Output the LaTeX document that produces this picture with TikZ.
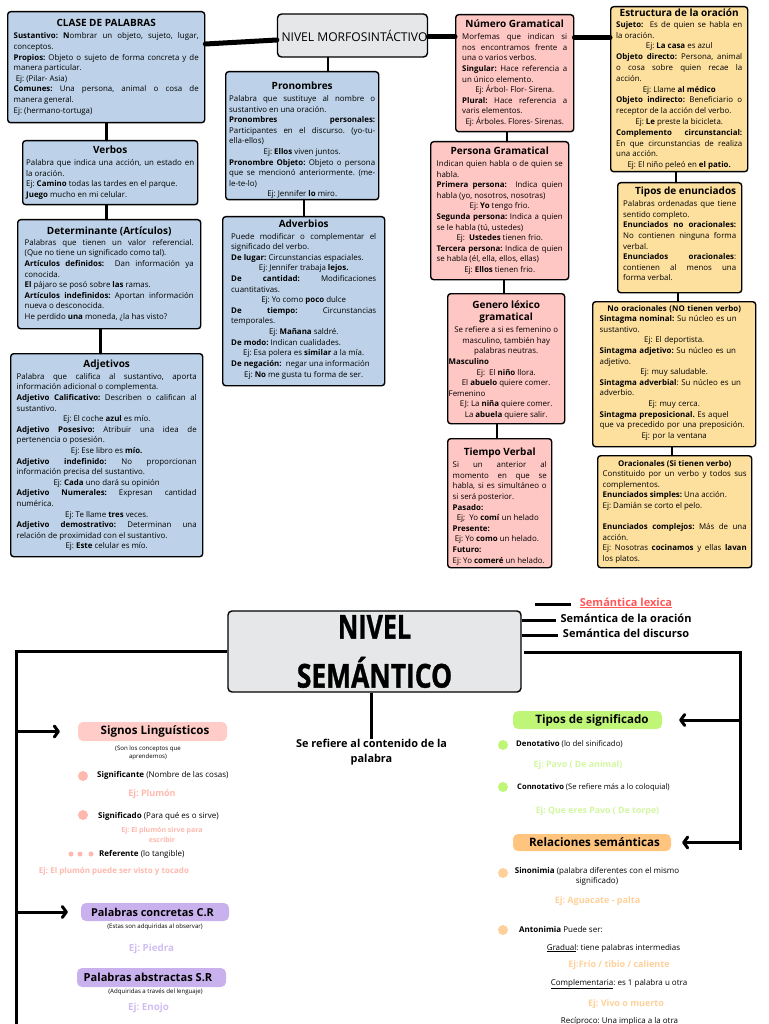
\documentclass[tikz,border=0pt]{standalone}
\usepackage[x11names,svgnames,dvipsnames]{xcolor}
\usepackage{fontspec}
\setmainfont{Open Sans}
\newfontfamily\titlefont[FakeBold=1.2]{Open Sans Bold}
\usepackage{tikz}
\usetikzlibrary{arrows.meta}
\hyphenpenalty=10000
\tolerance=9999
\emergencystretch=6pt
\frenchspacing
\definecolor{boxblue}{HTML}{BDD2E8}
\definecolor{boxpink}{HTML}{FFC7C3}
\definecolor{boxyellow}{HTML}{FDE09E}
\definecolor{boxgrey}{HTML}{E6E7E9}
\definecolor{pillpink}{HTML}{FFCCC8}
\definecolor{pillgreen}{HTML}{BFF678}
\definecolor{pillorange}{HTML}{FFC57F}
\definecolor{pillviolet}{HTML}{C9B1EE}
\definecolor{ejpink}{HTML}{FFB8AD}
\definecolor{ejgreen}{HTML}{D2F7A0}
\definecolor{ejorange}{HTML}{FFD09A}
\definecolor{ejviolet}{HTML}{D0BEF2}
\definecolor{lexred}{HTML}{FF5757}
\newcommand{\boxhead}[1]{\centerline{\fontsize{10}{10}\selectfont\bfseries #1}\vskip1.5pt}
\newcommand{\ejline}[1]{\centerline{#1}}

\begin{document}
\begin{tikzpicture}
	[x=1pt,y=-1pt,
	panel/.style={draw=black,line width=1.4pt,rounded corners=3pt,anchor=north west,align=justify,inner xsep=6pt,inner ysep=0pt,font=\fontsize{7.9}{10.6}\selectfont},
	bluebox/.style={panel,fill=boxblue},
	pinkbox/.style={panel,fill=boxpink},
	yellowbox/.style={panel,fill=boxyellow},
	greybox/.style={draw=black,line width=1.4pt,rounded corners=4pt,fill=boxgrey},
	link/.style={line width=#1,line cap=round},
	link/.default=2.6pt,
	hook/.style={line width=3pt},
	hookarrow/.style={line width=3pt,-{Straight Barb[round,length=4pt,width=11pt]}},
	pill/.style={rounded corners=5pt,inner sep=0pt,font=\fontsize{11.6}{13}\selectfont\bfseries},
	blob/.style={circle,fill=#1,inner sep=0pt,minimum size=10pt},
	smallblob/.style={circle,fill=#1,inner sep=0pt,minimum size=5pt},
	plain/.style={inner sep=0pt,align=center,font=\fontsize{8}{10}\selectfont},
	tiny/.style={inner sep=0pt,align=center,font=\fontsize{6.1}{8}\selectfont},
	ej/.style={inner sep=0pt,align=center,text=#1,font=\fontsize{9}{10}\selectfont\bfseries},
	lead/.style={inner sep=0pt,align=center,font=\fontsize{10.9}{15}\selectfont\bfseries},
	semline/.style={inner sep=0pt,font=\fontsize{11}{13}\selectfont\bfseries}]
	\useasboundingbox (0,0) rectangle (768,1024);

	\node[greybox,minimum width=149pt,minimum height=43pt,inner sep=0pt,font=\fontsize{12.1}{14}\selectfont] (morfo) at (352.5,35.5) {\hspace*{4pt}NIVEL MORFOSINTÁCTIVO};

	\node[bluebox,text width=185pt,minimum height=111pt] (clase) at (7,11) {%
		\boxhead{CLASE DE PALABRAS}
		\textbf{Sustantivo: N}ombrar un objeto, sujeto, lugar,\linebreak conceptos.\par
		\textbf{Propios:} Objeto o sujeto de forma concreta y de\linebreak manera particular.\par
		\ Ej: (Pilar- Asia)\par
		\textbf{Comunes:} Una persona, animal o cosa de\linebreak manera general.\par
		Ej: (hermano-tortuga)};
	\node[bluebox,text width=168pt,inner xsep=3.5pt,minimum height=64pt] (verbos) at (22,140) {%
		\boxhead{Verbos}
		Palabra que indica una acción, un estado en\linebreak la oración.\par
		Ej: \textbf{Camino} todas las tardes en el parque.\par
		\textbf{Juego} mucho en mi celular.};
	\node[bluebox,text width=169pt,inner xsep=7pt,minimum height=109pt] (determinante) at (17,219) {%
		\centerline{\fontsize{10}{10}\selectfont\bfseries Determinante (Artículos)}
		Palabras que tienen un valor referencial.\linebreak (Que no tiene un significado como tal).\par
		\textbf{Artículos definidos:} \ Dan información ya\linebreak conocida.\par
		\textbf{El} pájaro se posó sobre \textbf{las} ramas.\par
		\textbf{Artículos indefinidos:} Aportan información\linebreak nueva o desconocida.\par
		He perdido \textbf{una} moneda, ¿la has visto?};
	\node[bluebox,text width=180pt,minimum height=203pt] (adjetivos) at (10,353) {%
		\boxhead{Adjetivos}
		Palabra que califica al sustantivo, aporta\linebreak información adicional o complementa.\par
		\textbf{Adjetivo Calificativo:} Describen o califican al\linebreak sustantivo.\par
		\ejline{Ej: El coche \textbf{azul} es mío.}
		\textbf{Adjetivo Posesivo:} Atribuir una idea de\linebreak pertenencia o posesión.\par
		\ejline{Ej: Ese libro es \textbf{mío.}}
		\textbf{Adjetivo indefinido:} No proporcionan\linebreak información precisa del sustantivo.\par
		\ejline{Ej: \textbf{Cada} uno dará su opinión}
		\textbf{Adjetivo Numerales:} Expresan cantidad\linebreak numérica.\par
		\ejline{Ej: Te llame \textbf{tres} veces.}
		\textbf{Adjetivo demostrativo:} Determinan una\linebreak relación de proximidad con el sustantivo.\par
		\ejline{Ej: \textbf{Este} celular es mío.}};

	\node[bluebox,text width=146pt,inner xsep=3.5pt,minimum height=128pt] (pronombres) at (225,71) {%
		\rule{0pt}{17pt}\boxhead{Pronombres}
		Palabra que sustituye al nombre o\linebreak sustantivo en una oración.\par
		\textbf{Pronombres personales:}\linebreak
		Participantes en el discurso. (yo-tu-\linebreak ella-ellos)\par
		\ejline{Ej: \textbf{Ellos} viven juntos.}
		\textbf{Pronombre Objeto:} Objeto o persona\linebreak que se mencionó anteriormente. (me-\linebreak le-te-lo)\par
		\ejline{Ej: Jennifer \textbf{lo} miro.}};
	\node[bluebox,text width=145pt,inner xsep=8.5pt,minimum height=169pt] (adverbios) at (222,216) {%
		\boxhead{Adverbios}
		Puede modificar o complementar el\linebreak significado del verbo.\par
		\textbf{De lugar:} Circunstancias espaciales.\par
		\ejline{Ej: Jennifer trabaja \textbf{lejos.}}
		\textbf{De cantidad:} Modificaciones\linebreak cuantitativas.\par
		\ejline{Ej: Yo como \textbf{poco} dulce}
		\textbf{De tiempo:} Circunstancias\linebreak temporales.\par
		\ejline{Ej: \textbf{Mañana} saldré.}
		\textbf{De modo:} Indican cualidades.\par
		\ejline{Ej: Esa polera es \textbf{similar} a la mía.}
		\textbf{De negación:} \ negar una información\par
		\ejline{Ej: \textbf{No} me gusta tu forma de ser.}
		\vskip4pt\kern0pt};

	\node[pinkbox,text width=105pt,inner xsep=6.5pt,minimum height=117pt] (numero) at (455,14) {%
		\boxhead{Número Gramatical}
		Morfemas que indican si\linebreak nos encontramos frente a\linebreak una o varios verbos.\par
		\textbf{Singular:} Hace referencia a\linebreak un único elemento.\par
		\ejline{Ej: Árbol- Flor- Sirena.}
		\textbf{Plural:} Hace referencia a\linebreak varis elementos.\par
		\ejline{Ej: Árboles. Flores- Sirenas.}};
	\node[pinkbox,text width=126pt,minimum height=138pt] (persona) at (430,141) {%
		\boxhead{Persona Gramatical}
		Indican quien habla o de quien se\linebreak habla.\par
		\textbf{Primera persona:} \ Indica quien\linebreak habla (yo, nosotros, nosotras)\par
		\ejline{Ej: \textbf{Yo} tengo frio.}
		\textbf{Segunda persona:} Indica a quien\linebreak se le habla (tú, ustedes)\par
		\ejline{Ej: \ \textbf{Ustedes} tienen frio.}
		\textbf{Tercera persona:} Indica de quien\linebreak se habla (él, ella, ellos, ellas)\par
		\ejline{Ej: \textbf{Ellos} tienen frio.}};
	\node[pinkbox,text width=115pt,inner xsep=1pt,minimum height=130pt] (genero) at (447,293) {%
		\rule{0pt}{10.5pt}\boxhead{Genero léxico}
		\boxhead{gramatical}
		\ejline{Se refiere a si es femenino o}
		\ejline{masculino, también hay}
		\ejline{palabras neutras.}
		\textbf{Masculino}\par
		\ejline{Ej: \ El \textbf{niño} llora.}
		\ejline{El \textbf{abuelo} quiere comer.}
		Femenino\par
		\ejline{EJ: La \textbf{niña} quiere comer.}
		\ejline{La \textbf{abuela} quiere salir.}};
	\node[pinkbox,text width=94pt,inner xsep=5pt,minimum height=129pt] (tiempo) at (447,438) {%
		\rule{0pt}{14pt}\boxhead{Tiempo Verbal}
		Si un anterior al\linebreak momento en que se\linebreak habla, si es simultáneo o\linebreak si será posterior.\par
		\textbf{Pasado:}\par
		\ \ Ej; \ Yo \textbf{comí} un helado\par
		\textbf{Presente:}\par
		\ Ej: Yo \textbf{como} un helado.\par
		\textbf{Futuro:}\par
		Ej: Yo \textbf{comeré} un helado.};

	\node[yellowbox,font=\fontsize{7.9}{10.8}\selectfont,text width=126pt,inner xsep=5.5pt,minimum height=165pt] (estructura) at (610,6) {%
		\centerline{\fontsize{10}{10}\selectfont\bfseries Estructura de la oración}
		\textbf{Sujeto:} \ Es de quien se habla en\linebreak la oración.\par
		\ejline{Ej: \textbf{La casa} es azul}
		\textbf{Objeto directo:} Persona, animal\linebreak o cosa sobre quien recae la\linebreak acción.\par
		\ejline{Ej: Llame \textbf{al médico}}
		\textbf{Objeto indirecto:} Beneficiario o\linebreak receptor de la acción del verbo.\par
		\ejline{Ej: \textbf{Le} preste la bicicleta.}
		\textbf{Complemento circunstancial:}\linebreak En que circunstancias de realiza\linebreak una acción.\par
		\ejline{Ej: El niño peleó en \textbf{el patio.}}};
	\node[yellowbox,text width=113pt,inner xsep=5.5pt,minimum height=110pt] (enunciados) at (617,182) {%
		\rightline{\fontsize{10}{10}\selectfont\bfseries Tipos de enunciados}\vskip2pt
		Palabras ordenadas que tiene\linebreak sentido completo.\par
		\textbf{Enunciados no oracionales:}\linebreak No contienen ninguna forma\linebreak verbal.\par
		\textbf{Enunciados oracionales}:\linebreak contienen al menos una\linebreak forma verbal.\par
		\vskip8pt\kern0pt};
	\node[yellowbox,align=left,text width=149pt,inner xsep=7pt,minimum height=145pt] (nooracionales) at (592,301) {%
		\centerline{\bfseries No oracionales (NO tienen verbo)}
		\textbf{Sintagma nominal:} Su núcleo es un\linebreak sustantivo.\par
		\ejline{Ej: El deportista.}
		\textbf{Sintagma adjetivo:} Su núcleo es un\linebreak adjetivo.\par
		\ejline{Ej: muy saludable.}
		\textbf{Sintagma adverbial}: Su núcleo es un\linebreak adverbio.\par
		\ejline{Ej: muy cerca.}
		\textbf{Sintagma preposicional.} Es aquel\par
		que va precedido por una preposición.\par
		\ejline{Ej: por la ventana}
		\vskip3pt\kern0pt};
	\node[yellowbox,text width=144pt,inner xsep=5pt,minimum height=112pt] (oracionales) at (597,455) {%
		\centerline{\bfseries Oracionales (Si tienen verbo)}
		Constituido por un verbo y todos sus\linebreak complementos.\par
		\textbf{Enunciados simples:} Una acción.\par
		Ej: Damián se corto el pelo.\par
		\vspace{10.5pt}
		\textbf{Enunciados complejos:} Más de una\linebreak acción.\par
		Ej: Nosotras \textbf{cocinamos} y ellas \textbf{lavan}\linebreak los platos.};

	\draw[link=5pt] (clase.east |- 0,44) -- (morfo.west |- 0,40);
	\draw[link=5pt] (morfo.east |- 0,37) -- (numero.west |- 0,37);
	\draw[link=5pt] (numero.east |- 0,37.5) -- (estructura.west |- 0,37.5);
	\draw[link] (clase.south) -- (clase.south |- verbos.north);
	\draw[link] (clase.south |- verbos.south) -- (clase.south |- determinante.north);
	\draw[link] ([xshift=-9pt]determinante.south) -- ([xshift=-9pt]determinante.south |- adjetivos.north);
	\draw[link] (morfo.south -| 328,0) -- (pronombres.north -| 328,0);
	\draw[link] (pronombres.south -| 304,0) -- (adverbios.north -| 304,0);
	\draw[link] (numero.south -| 507,0) -- (persona.north -| 507,0);
	\draw[link] (persona.south -| 504,0) -- (genero.north -| 504,0);
	\draw[link] (genero.south -| 497,0) -- (tiempo.north -| 497,0);
	\draw[link] (estructura.south -| 676,0) -- (enunciados.north -| 676,0);
	\draw[link] (enunciados.south -| 678,0) -- (nooracionales.north -| 678,0);
	\draw[link] (nooracionales.south -| 672,0) -- (oracionales.north -| 672,0);

	\node[greybox,minimum width=293pt,minimum height=81pt,inner sep=0pt,align=center,font=\fontsize{33}{49}\selectfont\titlefont] (semantico) at (374.5,651.5) {\scalebox{0.76}[1]{NIVEL}\\\scalebox{0.8}[1]{SEMÁNTICO}};
	\node[lead] (refiere) at (371.5,752.5) {Se refiere al contenido de la\\palabra};
	\draw[hook] (semantico.south -| refiere.north) -- (refiere.north);

	\node[semline,text=lexred] (lexica) at (626,603) {\underline{Semántica lexica}};
	\node[semline] (oracion) at (626,618) {Semántica de la oración};
	\node[semline] (discurso) at (626,633) {Semántica del discurso};
	\coordinate (lexfree) at (535,604);
	\draw[hook,shorten >=9pt] (lexfree) -- (lexica.west |- lexfree);
	\draw[hook,shorten >=4pt] (semantico.east |- 0,620) -- (oracion.west |- 0,620);
	\draw[hook,shorten >=5pt] (semantico.east |- 0,635) -- (discurso.west |- 0,635);

	\coordinate (leftfoot) at (16.5,1024);
	\coordinate (rightfoot) at (740,850);
	\draw[hook] (semantico.west) -| (leftfoot);
	\draw[hook] (524,652) -| (rightfoot);

	\node[pill,fill=pillpink,minimum width=149pt,minimum height=19pt] (signos) at (152.5,731.5) {\hspace*{5pt}Signos Linguísticos};
	\node[tiny] (signosnote) at (148,753) {(Son los conceptos que\\aprendemos)};
	\node[blob=ejpink] (blobsig) at (83,776) {};
	\node[plain,anchor=west] (significante) at (97,775) {\textbf{Significante} (Nombre de las cosas)};
	\node[ej=ejpink] (ejplumon) at (152,794) {Ej: Plumón};
	\node[blob=ejpink] (blobsdo) at (83,815) {};
	\node[plain,anchor=west] (significado) at (98,816) {\textbf{Significado} (Para qué es o sirve)};
	\node[ej=ejpink,font=\fontsize{7}{10}\selectfont\bfseries] (ejsirve) at (162,835) {Ej: El plumón sirve para\\escribir};
	\node[smallblob=ejpink] (refa) at (71,854) {};
	\node[smallblob=ejpink] (refb) at (80,854) {};
	\node[smallblob=ejpink] (refc) at (91,854) {};
	\node[plain,anchor=west] (referente) at (99,854) {\textbf{Referente} (lo tangible)};
	\node[ej=ejpink,font=\fontsize{8}{10}\selectfont\bfseries] (ejtocado) at (114,871) {Ej: El plumón puede ser visto y tocado};

	\node[pill,fill=pillviolet,minimum width=148pt,minimum height=18pt,font=\fontsize{10.9}{13}\selectfont\bfseries] (concretas) at (155,912) {Palabras concretas C.R\hspace*{5pt}};
	\node[tiny] (concretasnote) at (155,927) {(Estas son adquiridas al observar)};
	\node[ej=ejviolet,font=\fontsize{9.8}{10}\selectfont\bfseries] (ejpiedra) at (151.5,949) {Ej: Piedra};
	\node[pill,fill=pillviolet,minimum width=149pt,minimum height=19pt,font=\fontsize{11.1}{13}\selectfont\bfseries] (abstractas) at (151.5,977.5) {Palabras abstractas S.R\hspace*{7pt}};
	\node[tiny] (abstractasnote) at (155.5,992) {(Adquiridas a través del lenguaje)};
	\node[ej=ejviolet,font=\fontsize{9.8}{10}\selectfont\bfseries] (ejenojo) at (148.5,1008) {Ej: Enojo};

	\draw[hookarrow,shorten >=18pt] (leftfoot |- signos.west) -- (signos.west);
	\draw[hookarrow,shorten >=13pt] (leftfoot |- concretas.west) -- (concretas.west);

	\node[pill,fill=pillgreen,minimum width=149pt,minimum height=18pt] (tipos) at (587.5,720) {\hspace*{9pt}Tipos de significado};
	\node[blob=pillgreen] (blobden) at (503,745) {};
	\node[plain,anchor=west,font=\fontsize{7.8}{10}\selectfont] (denotativo) at (516,744) {\textbf{Denotativo} (lo del sinificado)};
	\node[ej=ejgreen,font=\fontsize{8.8}{10}\selectfont\bfseries] (ejanimal) at (578,765) {Ej: Pavo ( De animal)};
	\node[blob=pillgreen] (blobcon) at (503,787) {};
	\node[plain,anchor=west,font=\fontsize{7.6}{10}\selectfont] (connotativo) at (517,787) {\textbf{Connotativo} (Se refiere más a lo coloquial)};
	\node[ej=ejgreen,font=\fontsize{8.8}{10}\selectfont\bfseries] (ejtorpe) at (597.5,811) {Ej: Que eres Pavo ( De torpe)};

	\node[pill,fill=pillorange,minimum width=158pt,minimum height=17pt] (relaciones) at (592,842.5) {\hspace*{5pt}Relaciones semánticas};
	\node[blob=ejorange] (blobsin) at (503,873) {};
	\node[plain] (sinonimia) at (597,876) {\textbf{Sinonimia} (palabra diferentes con el mismo\\significado)};
	\node[ej=ejorange] (ejpalta) at (597.5,901) {Ej: Aguacate - palta};
	\node[blob=ejorange] (blobant) at (503,930) {};
	\node[plain,anchor=west] (antonimia) at (519,930) {\textbf{Antonimia} Puede ser:};
	\node[plain] (gradual) at (613.5,948) {\underline{Gradual}: tiene palabras intermedias};
	\node[ej=ejorange] (ejfrio) at (619,965) {Ej:Frío / tibio / caliente};
	\node[plain] (complementaria) at (619,984) {\underline{Complementaria}: es 1 palabra u otra};
	\node[ej=ejorange] (ejvivo) at (626,1004) {Ej: Vivo o muerto};
	\node[plain] (reciproco) at (619.5,1022) {\underline{Recíproco}: Una implica a la otra};

	\draw[hookarrow,shorten >=17pt] (rightfoot |- tipos.east) -- (tipos.east);
	\draw[hookarrow,shorten >=11pt] (rightfoot |- relaciones.east) -- (relaciones.east);
\end{tikzpicture}
\end{document}
